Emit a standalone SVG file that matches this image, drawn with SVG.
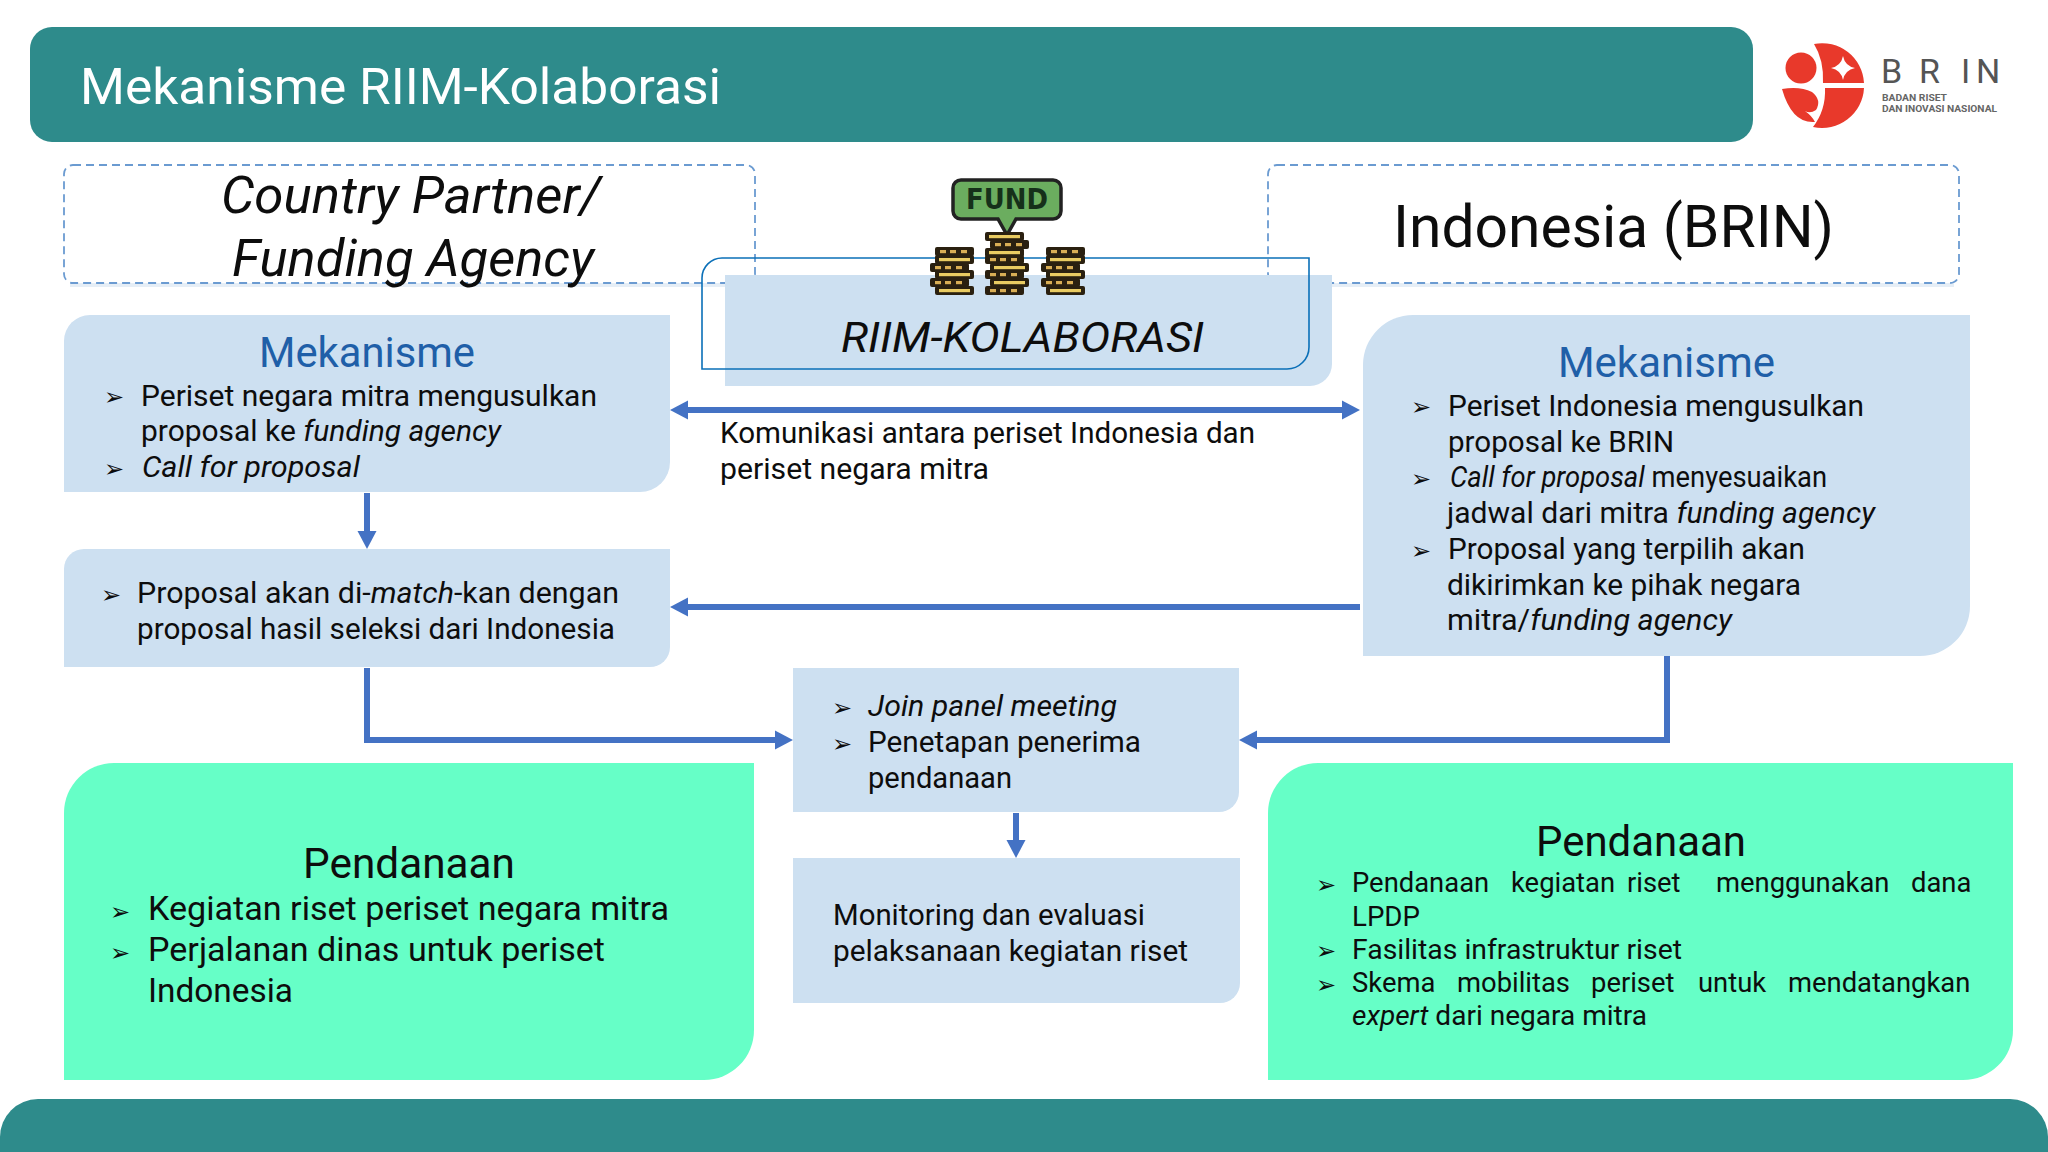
<svg xmlns="http://www.w3.org/2000/svg" xmlns:xlink="http://www.w3.org/1999/xlink" width="2048" height="1152" viewBox="0 0 2048 1152">
<style>
text{font-family:"Roboto","Liberation Sans",sans-serif;fill:#0d0d0d}
.i{font-style:italic}
.ti{font-size:50px;fill:#fff}
.h1{font-size:52px}
.h2{font-size:43px}
.blue{fill:#1f5fa8}
.t30{font-size:30px}
.t33{font-size:33px}
.t27{font-size:27px}
.j{font-size:27.4px}
.b{font-family:"DejaVu Sans",sans-serif;font-size:24px}
.box{fill:#cde0f1}
.green{fill:#66ffc7}
.dash{fill:#fff;stroke:#6b9bd1;stroke-width:1.8;stroke-dasharray:8 5}
.shade{fill:none;stroke:#e6eef6;stroke-width:4}
.conn{fill:none;stroke:#4472c4;stroke-width:6}
.logo{fill:#e8392b}
.lg{fill:#555;font-size:34px}
.ls{fill:#666;font-size:9px;font-weight:700}
</style>
<defs>
<marker id="ah" markerUnits="userSpaceOnUse" markerWidth="18" markerHeight="20" refX="2" refY="10" orient="auto-start-reverse"><path d="M0,0.5 L18,10 L0,19.5 z" fill="#4472c4"/></marker>
<g id="ca"><rect width="39" height="9" rx="2" fill="#2a2010"/><rect x="4" y="3" width="31" height="3.2" fill="#e9cb62"/></g>
<g id="cb"><rect width="39" height="9" rx="2" fill="#2a2010"/><rect x="5" y="3" width="6" height="3.2" fill="#d9ae55"/><rect x="15" y="3" width="6" height="3.2" fill="#d9ae55"/><rect x="26" y="3" width="6" height="3.2" fill="#d9ae55"/></g>
</defs>
<rect width="2048" height="1152" fill="#fff"/>
<g id="header"><rect x="30" y="27" width="1723" height="115" rx="22" fill="#2e8b8b"/><text class="ti" x="80" y="104" textLength="641" lengthAdjust="spacingAndGlyphs">Mekanisme RIIM-Kolaborasi</text></g>
<g id="footer"><path d="M0,1152 V1137 a38,38 0 0 1 38,-38 H2010 a38,38 0 0 1 38,38 V1152 z" fill="#2e8b8b"/></g>
<g id="logo">
<circle class="logo" cx="1801" cy="68" r="15.5"/>
<path class="logo" d="M1814,44 A42,42 0 0 1 1864,83 H1823 Q1824,60 1814,44 z"/>
<path class="logo" d="M1864,88 H1825 Q1826,110 1813,127 A42,42 0 0 0 1864,88 z"/>
<path class="logo" d="M1782,89 Q1800,86 1812,92 Q1822,100 1816,110 Q1810,114 1805,111 Q1812,116 1815,122 Q1792,124 1782,89 z"/>
<path d="M1843,56 Q1845,66 1855,68 Q1845,70 1843,80 Q1841,70 1831,68 Q1841,66 1843,56 z" fill="#fff"/>
<text class="lg" y="83"><tspan x="1881">B</tspan><tspan x="1919">R</tspan><tspan x="1961">I</tspan><tspan x="1976">N</tspan></text>
<text class="ls" x="1882" y="101" textLength="65" lengthAdjust="spacingAndGlyphs">BADAN RISET</text>
<text class="ls" x="1882" y="112" textLength="115" lengthAdjust="spacingAndGlyphs">DAN INOVASI NASIONAL</text>
</g>
<g id="partner"><path class="shade" d="M70,285 H750"/><rect class="dash" x="64" y="165" width="691" height="118" rx="9"/>
<text class="h1 i" x="221" y="213" textLength="380" lengthAdjust="spacingAndGlyphs">Country Partner/</text>
<text class="h1 i" x="232" y="276" textLength="362" lengthAdjust="spacingAndGlyphs">Funding Agency</text></g>
<g id="indonesia"><path class="shade" d="M1274,285 H1954"/><rect class="dash" x="1268" y="165" width="691" height="118" rx="9"/>
<text class="h1" style="font-size:60px" x="1393" y="247" textLength="441" lengthAdjust="spacingAndGlyphs">Indonesia (BRIN)</text></g>
<g id="riim">
<path class="box" d="M725,275 H1332 V364 a22,22 0 0 1 -22,22 H725 z"/>
<path d="M722,258 H1309 V347 a22,22 0 0 1 -22,22 H702 V278 a20,20 0 0 1 20,-20 z" fill="none" stroke="#0b70b8" stroke-width="1.6"/>
<text class="h2 i" x="841" y="352" textLength="363" lengthAdjust="spacingAndGlyphs">RIIM-KOLABORASI</text>
</g>
<g id="fund">
<path d="M961,180 H1053 a8,8 0 0 1 8,8 V211 a8,8 0 0 1 -8,8 H1016 L1007,235 L998,219 H961 a8,8 0 0 1 -8,-8 V188 a8,8 0 0 1 8,-8 z" fill="#6bad5f" stroke="#222" stroke-width="3.5"/>
<text x="966" y="209" textLength="82" lengthAdjust="spacingAndGlyphs" style="font-family:'DejaVu Sans',sans-serif;font-weight:700;font-size:28px;fill:#16301a">FUND</text>
<use href="#ca" x="985" y="232"/><use href="#cb" x="990" y="240"/><use href="#ca" x="985" y="248"/><use href="#cb" x="985" y="255"/><use href="#ca" x="990" y="263"/><use href="#cb" x="985" y="270"/><use href="#ca" x="990" y="278"/><use href="#cb" x="985" y="286"/>
<use href="#cb" x="935" y="247"/><use href="#ca" x="935" y="255"/><use href="#cb" x="930" y="263"/><use href="#ca" x="935" y="270"/><use href="#cb" x="930" y="278"/><use href="#ca" x="935" y="286"/>
<use href="#cb" x="1046" y="247"/><use href="#ca" x="1046" y="255"/><use href="#cb" x="1041" y="263"/><use href="#ca" x="1046" y="270"/><use href="#cb" x="1041" y="278"/><use href="#ca" x="1046" y="286"/>
</g>
<g id="mek-left"><path class="box" d="M90,315 H670 V462 a30,30 0 0 1 -30,30 H64 V341 a26,26 0 0 1 26,-26 z"/>
<text class="h2 blue" x="259" y="367" textLength="216" lengthAdjust="spacingAndGlyphs">Mekanisme</text>
<text class="b" x="104" y="405">➢</text><text class="t30" x="141" y="406" textLength="456" lengthAdjust="spacingAndGlyphs">Periset negara mitra mengusulkan</text>
<text class="t30" x="141" y="441" textLength="360" lengthAdjust="spacingAndGlyphs">proposal ke <tspan class="i">funding agency</tspan></text>
<text class="b" x="104" y="477">➢</text><text class="t30 i" x="142" y="477" textLength="218" lengthAdjust="spacingAndGlyphs">Call for proposal</text></g>
<g id="match"><path class="box" d="M84,549 H670 V647 a20,20 0 0 1 -20,20 H64 V569 a20,20 0 0 1 20,-20 z"/>
<text class="b" x="101" y="603">➢</text><text class="t30" x="137" y="603" textLength="482" lengthAdjust="spacingAndGlyphs">Proposal akan di-<tspan class="i">match</tspan>-kan dengan</text>
<text class="t30" x="137" y="639" textLength="478" lengthAdjust="spacingAndGlyphs">proposal hasil seleksi dari Indonesia</text></g>
<g id="komunikasi"><text class="t30" x="720" y="443" textLength="535" lengthAdjust="spacingAndGlyphs">Komunikasi antara periset Indonesia dan</text>
<text class="t30" x="720" y="479" textLength="269" lengthAdjust="spacingAndGlyphs">periset negara mitra</text></g>
<g id="mek-right"><path class="box" d="M1413,315 H1970 V606 a50,50 0 0 1 -50,50 H1363 V365 a50,50 0 0 1 50,-50 z"/>
<text class="h2 blue" x="1558" y="377" textLength="217" lengthAdjust="spacingAndGlyphs">Mekanisme</text>
<text class="b" x="1411" y="415">➢</text><text class="t30" x="1448" y="416" textLength="416" lengthAdjust="spacingAndGlyphs">Periset Indonesia mengusulkan</text>
<text class="t30" x="1448" y="452" textLength="226" lengthAdjust="spacingAndGlyphs">proposal ke BRIN</text>
<text class="b" x="1411" y="487">➢</text><text class="t30" x="1450" y="487" textLength="377" lengthAdjust="spacingAndGlyphs"><tspan class="i">Call for proposal</tspan> menyesuaikan</text>
<text class="t30" x="1447" y="523" textLength="428" lengthAdjust="spacingAndGlyphs">jadwal dari mitra <tspan class="i">funding agency</tspan></text>
<text class="b" x="1411" y="559">➢</text><text class="t30" x="1448" y="559" textLength="357" lengthAdjust="spacingAndGlyphs">Proposal yang terpilih akan</text>
<text class="t30" x="1447" y="595" textLength="354" lengthAdjust="spacingAndGlyphs">dikirimkan ke pihak negara</text>
<text class="t30" x="1447" y="630" textLength="285" lengthAdjust="spacingAndGlyphs">mitra/<tspan class="i">funding agency</tspan></text></g>
<g id="panel"><path class="box" d="M793,668 H1239 V792 a20,20 0 0 1 -20,20 H793 z"/>
<text class="b" x="832" y="716">➢</text><text class="t30 i" x="868" y="716" textLength="249" lengthAdjust="spacingAndGlyphs">Join panel meeting</text>
<text class="b" x="832" y="752">➢</text><text class="t30" x="868" y="752" textLength="273" lengthAdjust="spacingAndGlyphs">Penetapan penerima</text>
<text class="t30" x="868" y="788" textLength="144" lengthAdjust="spacingAndGlyphs">pendanaan</text></g>
<g id="monev"><path class="box" d="M793,858 H1240 V983 a20,20 0 0 1 -20,20 H793 z"/>
<text class="t30" x="833" y="925" textLength="312" lengthAdjust="spacingAndGlyphs">Monitoring dan evaluasi</text>
<text class="t30" x="833" y="961" textLength="355" lengthAdjust="spacingAndGlyphs">pelaksanaan kegiatan riset</text></g>
<g id="dana-left"><path class="green" d="M114,763 H754 V1030 a50,50 0 0 1 -50,50 H64 V813 a50,50 0 0 1 50,-50 z"/>
<text class="h2" x="303" y="878" textLength="212" lengthAdjust="spacingAndGlyphs">Pendanaan</text>
<text class="b" x="110" y="920">➢</text><text class="t33" x="148" y="920" textLength="521" lengthAdjust="spacingAndGlyphs">Kegiatan riset periset negara mitra</text>
<text class="b" x="110" y="961">➢</text><text class="t33" x="148" y="961" textLength="457" lengthAdjust="spacingAndGlyphs">Perjalanan dinas untuk periset</text>
<text class="t33" x="148" y="1002" textLength="145" lengthAdjust="spacingAndGlyphs">Indonesia</text></g>
<g id="dana-right"><path class="green" d="M1318,763 H2013 V1030 a50,50 0 0 1 -50,50 H1268 V813 a50,50 0 0 1 50,-50 z"/>
<text class="h2" x="1536" y="856" textLength="210" lengthAdjust="spacingAndGlyphs">Pendanaan</text>
<text class="b" x="1316" y="893">➢</text><text class="j" y="892"><tspan x="1352">Pendanaan</tspan> <tspan x="1511">kegiatan</tspan> <tspan x="1627">riset</tspan> <tspan x="1716">menggunakan</tspan> <tspan x="1911">dana</tspan></text>
<text class="t27" x="1352" y="926" textLength="68" lengthAdjust="spacingAndGlyphs">LPDP</text>
<text class="b" x="1316" y="959">➢</text><text class="t27" x="1352" y="959" textLength="330" lengthAdjust="spacingAndGlyphs">Fasilitas infrastruktur riset</text>
<text class="b" x="1316" y="993">➢</text><text class="j" y="992"><tspan x="1352">Skema</tspan> <tspan x="1457">mobilitas</tspan> <tspan x="1591">periset</tspan> <tspan x="1698">untuk</tspan> <tspan x="1788">mendatangkan</tspan></text>
<text class="t27" x="1352" y="1025" textLength="295" lengthAdjust="spacingAndGlyphs"><tspan class="i">expert</tspan> dari negara mitra</text></g>
<g id="connectors">
<path class="conn" d="M686,410 H1344" marker-start="url(#ah)" marker-end="url(#ah)"/>
<path class="conn" d="M1360,607 L686,607" marker-end="url(#ah)"/>
<path class="conn" d="M367,493 V533" marker-end="url(#ah)"/>
<path class="conn" d="M367,668 V740 H777" marker-end="url(#ah)"/>
<path class="conn" d="M1667,656 V740 H1255" marker-end="url(#ah)"/>
<path class="conn" d="M1016,813 V842" marker-end="url(#ah)"/>
</g>
</svg>
